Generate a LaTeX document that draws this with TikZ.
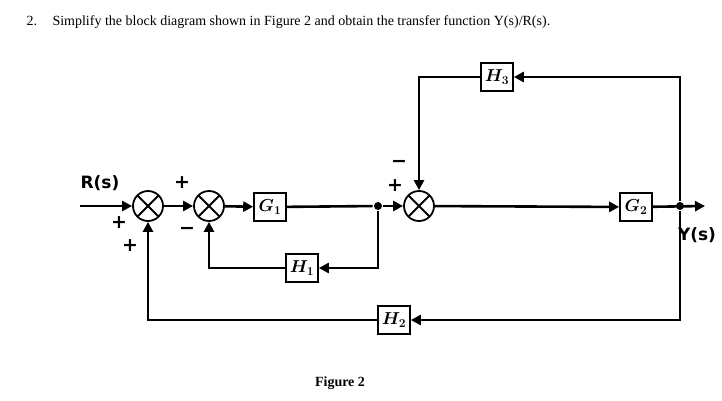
\documentclass[tikz,border=0pt]{standalone}
\usepackage{amsmath}
\usepackage{fontspec}
\setmainfont{Liberation Serif}
\newfontfamily\sansbold{DejaVu Sans}
\usetikzlibrary{arrows.meta}
\begin{document}
\begin{tikzpicture}[x=1pt,y=-1pt,line width=2.6pt,>={Triangle[length=10pt,width=10pt]},
  blk/.style={draw,line width=1.6pt,minimum width=32pt,minimum height=28pt,inner sep=0pt,font=\bfseries\fontsize{18}{18}\selectfont},
  sum/.style={draw,circle,line width=1.8pt,minimum size=30pt,inner sep=0pt,path picture={
    \draw[line width=1.8pt] (path picture bounding box.south west) -- (path picture bounding box.north east)
      (path picture bounding box.north west) -- (path picture bounding box.south east);}},
  sgn/.style={font=\sansbold\bfseries\fontsize{19}{19}\selectfont},
  lbl/.style={font=\sansbold\bfseries\fontsize{17}{17}\selectfont},
  dot/.style={circle,fill,inner sep=0pt,minimum size=8pt}]
\useasboundingbox (0,0) rectangle (722,400);
\node[anchor=west,font=\fontsize{14}{14}\selectfont] (title) at (22,22) {2.\hspace{1.1em}Simplify the block diagram shown in Figure 2 and obtain the transfer function Y(s)/R(s).};
% summing points
\node[sum] (s1) at (148,206) {};
\node[sum] (s2) at (209,206) {};
\node[sum] (s3) at (419,206) {};
% blocks
\node[blk] (g1) at (270,207) {$\boldsymbol{G_1}$};
\node[blk] (g2) at (636,207) {$\boldsymbol{G_2}$};
\node[blk] (h1) at (302,268) {$\boldsymbol{H_1}$};
\node[blk] (h2) at (394,320) {$\boldsymbol{H_2}$};
\node[blk] (h3) at (497,77) {$\boldsymbol{H_3}$};
% junctions
\node[dot] (j1) at (378,206) {};
\node[dot] (j2) at (680,206) {};
\coordinate (in) at (80,206);
\coordinate (out) at (705,206);
% forward path
\draw[->] (in) -- (s1);
\draw[->] (s1) -- (s2);
\draw[->] (s2) -- (g1);
\draw (g1) -- (j1);
\draw[->] (j1) -- (s3);
\draw[->] (s3) -- (g2);
\draw[->] (g2) -- (out);
% feedback loops
\draw[->] (j2) |- (h3);
\draw[->] (h3) -| (s3);
\draw[->] (j1) |- (h1);
\draw[->] (h1) -| (s2);
\draw[->] (j2) |- (h2);
\draw[->] (h2) -| (s1);
% labels
\node[lbl] (r) at (100,183) {R(s)};
\node[lbl] (y) at (697,235) {Y(s)};
\node[sgn] (p1) at (119,223) {+};
\node[sgn] (p2) at (130,246) {+};
\node[sgn] (p3) at (182,183) {+};
\node[sgn] (m2) at (187,231) {\textminus};
\node[sgn] (m3) at (399,164) {\textminus};
\node[sgn] (p4) at (395,186) {+};
\node[font=\bfseries\fontsize{14}{14}\selectfont] (fig) at (340,383) {Figure 2};
\end{tikzpicture}
\end{document}
